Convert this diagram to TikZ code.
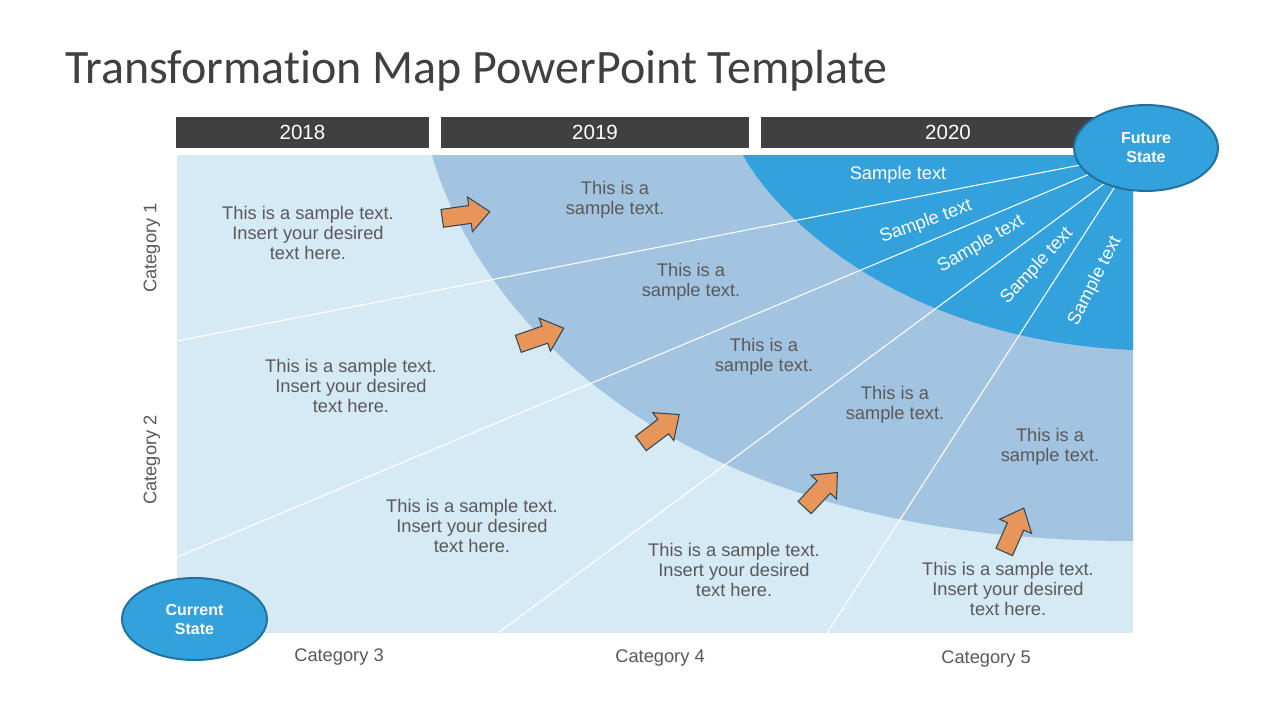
\documentclass[tikz,border=0pt]{standalone}
\usepackage{fontspec}
\setmainfont{Liberation Sans}
\newfontfamily\titlefont[Ligatures=NoCommon]{Carlito}
\usetikzlibrary{shapes.geometric}
\definecolor{bgblue}{HTML}{D6EAF5}
\definecolor{midblue}{HTML}{A3C4E0}
\definecolor{darkblue}{HTML}{33A1DC}
\definecolor{rimblue}{HTML}{22709C}
\definecolor{barcol}{HTML}{404040}
\definecolor{txtcol}{HTML}{595959}
\definecolor{titlecol}{HTML}{404040}
\definecolor{arrowfill}{HTML}{E8955A}
\definecolor{arrowrim}{HTML}{2F4858}
\begin{document}
\begin{tikzpicture}[x=0.02cm,y=-0.02cm,
  body/.style={font=\fontsize{10.4}{11.34}\selectfont, text=txtcol, align=center, inner sep=0pt},
  whitetxt/.style={font=\fontsize{10.4}{11.34}\selectfont, text=white, inner sep=0pt},
  cat/.style={font=\fontsize{10.4}{11.34}\selectfont, text=txtcol, inner sep=0pt},
  yearbar/.style={fill=barcol, text=white, font=\fontsize{11.7}{13}\selectfont, minimum height=0.62cm, inner sep=0pt},
  statenode/.style={ellipse, fill=darkblue, draw=rimblue, line width=1.1pt, text=white, align=center,
     font=\bfseries\fontsize{9.1}{10.8}\selectfont, inner sep=0pt},
  divline/.style={draw=white, line width=0.6pt},
  arrowsty/.style={fill=arrowfill, draw=arrowrim, line width=0.6pt, line join=miter},
  blockarrow/.pic={\path[arrowsty] (-24,-9) -- (4,-9) -- (4,-17.5) -- (24,0) -- (4,17.5) -- (4,9) -- (-24,9) -- cycle;}
]
\useasboundingbox (0,0) rectangle (1280,720);
\fill[white] (0,0) rectangle (1280,720);

% regions
\fill[bgblue] (177,155) rectangle (1133,633);
\fill[midblue] (1133,155) -- (432,155) .. controls (470,290) and (640,541) .. (1133,541) -- cycle;
\fill[darkblue] (1133,155) -- (743,155) .. controls (775,215) and (900,340) .. (1133,350) -- cycle;

% divider lines
\coordinate (l1a) at (177,341);
\coordinate (l2a) at (177,557);
\coordinate (l3a) at (498,633);
\coordinate (l4a) at (827,633);
\coordinate (l1b) at (1147,152);
\coordinate (l2b) at (1147,150);
\coordinate (l3b) at (1147,152);
\coordinate (l4b) at (1147,137);
\draw[divline] (l1a) -- (l1b);
\draw[divline] (l2a) -- (l2b);
\draw[divline] (l3a) -- (l3b);
\draw[divline] (l4a) -- (l4b);

% long text blocks
\node[body] (t1) at (308,233) {This is a sample text.\\Insert your desired\\text here.};
\node[body] (t2) at (351,386) {This is a sample text.\\Insert your desired\\text here.};
\node[body] (t3) at (472,526) {This is a sample text.\\Insert your desired\\text here.};
\node[body] (t4) at (734,570) {This is a sample text.\\Insert your desired\\text here.};
\node[body] (t5) at (1008,589) {This is a sample text.\\Insert your desired\\text here.};

% short text blocks
\node[body] (s1) at (615,200) {This is a\\sample text.};
\node[body] (s2) at (691,282) {This is a\\sample text.};
\node[body] (s3) at (764,357) {This is a\\sample text.};
\node[body] (s4) at (895,405) {This is a\\sample text.};
\node[body] (s5) at (1050,447) {This is a\\sample text.};

% sample text labels in dark band
\node[whitetxt] (w1) at (898,175) {Sample text};
\node[whitetxt, rotate=20] (w2) at (926,222) {Sample text};
\node[whitetxt, rotate=30] (w3) at (981,244) {Sample text};
\node[whitetxt, rotate=47] (w4) at (1037,266) {Sample text};
\node[whitetxt, rotate=63] (w5) at (1095,281) {Sample text};

% arrows
\pic[rotate=8] at (466,215) {blockarrow};
\pic[rotate=19] at (541,336) {blockarrow};
\pic[rotate=37] at (660,429) {blockarrow};
\pic[rotate=47] at (821,490) {blockarrow};
\pic[rotate=66] at (1014,530) {blockarrow};

% year bars
\node[yearbar, minimum width=5.06cm] (y18) at (302.5,132.5) {2018};
\node[yearbar, minimum width=6.16cm] (y19) at (595,132.5) {2019};
\node[yearbar, minimum width=7.48cm] (y20) at (948,132.5) {2020};

% state ellipses
\node[statenode, minimum width=2.88cm, minimum height=1.72cm] (fs) at (1146,148) {Future\\State};
\node[statenode, minimum width=2.9cm, minimum height=1.64cm] (cs) at (194.5,619) {Current\\State};

% category labels
\node[cat, rotate=90] (c1) at (152,248) {Category 1};
\node[cat, rotate=90] (c2) at (152,460) {Category 2};
\node[cat] (c3) at (339,657) {Category 3};
\node[cat] (c4) at (660,658) {Category 4};
\node[cat] (c5) at (986,659) {Category 5};

% title
\node[anchor=base west, inner sep=0pt, text=titlecol, font=\titlefont\fontsize{27.3}{30}\selectfont] (title) at (65,83) {Transformation Map PowerPoint Template};
\end{tikzpicture}
\end{document}
